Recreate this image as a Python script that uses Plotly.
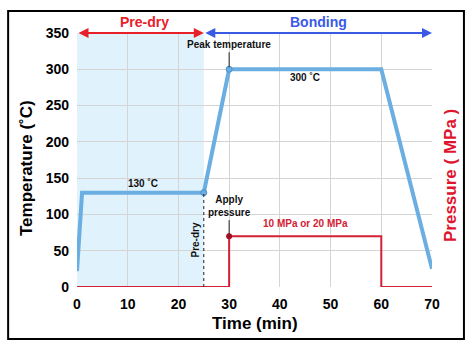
import plotly.graph_objects as go

# Data
time_temp = [0, 1, 25, 30, 60, 70]
temperature = [22, 130, 130, 300, 300, 25]
time_press = [0, 30, 30, 60, 60, 70]
pressure = [0, 0, 70, 70, 0, 0]   # plotted on the shared scale
x_ticks = [0, 10, 20, 30, 40, 50, 60, 70]
y_ticks = [0, 50, 100, 150, 200, 250, 300, 350]
predry_end = 25
bond_end = 70

FONT = "Liberation Sans, Arial, sans-serif"
BLUE = "#6aaee2"
RED = "#d42035"

fig = go.Figure()

fig.add_trace(go.Scatter(x=time_press, y=pressure, mode="lines",
                         line=dict(color=RED, width=2), hoverinfo="skip"))
fig.add_trace(go.Scatter(x=time_temp, y=temperature, mode="lines",
                         line=dict(color=BLUE, width=4), hoverinfo="skip"))
fig.add_trace(go.Scatter(x=[predry_end, 30], y=[130, 300], mode="markers",
                         marker=dict(color=BLUE, size=6, line=dict(color="#4a8ec8", width=1))))
fig.add_trace(go.Scatter(x=[30], y=[70], mode="markers",
                         marker=dict(color="#a01020", size=6)))

shapes = [
    dict(type="rect", xref="x", yref="y", x0=0, x1=predry_end, y0=0, y1=350,
         fillcolor="#e0f2fb", line=dict(width=0), layer="below"),
    dict(type="line", xref="x", yref="y", x0=predry_end, x1=predry_end, y0=0, y1=130,
         line=dict(color="#222222", width=1, dash="dot")),
    dict(type="rect", xref="paper", yref="paper", x0=-0.194, x1=1.090, y0=-0.205, y1=1.087,
         line=dict(color="black", width=2)),
]

ann = []
# double arrows
ann.append(dict(x=predry_end, y=350, ax=0, ay=350, xref="x", yref="y", axref="x", ayref="y",
                text="", showarrow=True, arrowhead=2, startarrowhead=2, arrowside="end+start",
                arrowsize=1, arrowwidth=2, arrowcolor="#e8202a"))
ann.append(dict(x=bond_end, y=350, ax=predry_end, ay=350, xref="x", yref="y", axref="x", ayref="y",
                text="", showarrow=True, arrowhead=2, startarrowhead=2, arrowside="end+start",
                arrowsize=1, arrowwidth=2, arrowcolor="#3a5ae6"))
ann.append(dict(x=(144 - 77) / 355, y=(287 - 22) / 254, xref="paper", yref="paper",
                text="<b>Pre-dry</b>", showarrow=False, xanchor="center", yanchor="middle",
                font=dict(family=FONT, size=14, color="#e8202a")))
ann.append(dict(x=(318 - 77) / 355, y=(287 - 22) / 254, xref="paper", yref="paper",
                text="<b>Bonding</b>", showarrow=False, xanchor="center", yanchor="middle",
                font=dict(family=FONT, size=14, color="#3a5ae6")))
# peak temperature
ann.append(dict(x=30, y=300, xref="x", yref="y", ax=0, ay=-17, text="<b>Peak temperature</b>",
                showarrow=True, arrowhead=0, arrowwidth=1, arrowcolor="#222", standoff=2,
                font=dict(family=FONT, size=10, color="#111"), yanchor="bottom"))
ann.append(dict(x=30, y=70, xref="x", yref="y", ax=0, ay=-16, text="<b>Apply<br>pressure</b>",
                showarrow=True, arrowhead=0, arrowwidth=1, arrowcolor="#222", standoff=2,
                font=dict(family=FONT, size=10, color="#111"), yanchor="bottom"))
ann.append(dict(x=45, y=288, xref="x", yref="y", text="<b>300 ˚C</b>", showarrow=False,
                font=dict(family=FONT, size=10, color="#111")))
ann.append(dict(x=13, y=143, xref="x", yref="y", text="<b>130 ˚C</b>", showarrow=False,
                font=dict(family=FONT, size=10, color="#111")))
ann.append(dict(x=45, y=88, xref="x", yref="y", text="<b>10 MPa or 20 MPa</b>", showarrow=False,
                font=dict(family=FONT, size=10, color=RED)))
ann.append(dict(x=23.4, y=65, xref="x", yref="y", text="<b>Pre-dry</b>", showarrow=False,
                textangle=-90, font=dict(family=FONT, size=10, color="#111")))
# axis titles
ann.append(dict(x=(26 - 77) / 355, y=(287 - 168) / 254, xref="paper", yref="paper",
                text="<b>Temperature (˚C)</b>", xanchor="center", yanchor="middle",
                showarrow=False, textangle=-90, font=dict(family=FONT, size=17, color="black")))
ann.append(dict(x=(450 - 77) / 355, y=(287 - 176) / 254, xref="paper", yref="paper",
                text="<b>Pressure ( MPa )</b>", xanchor="center", yanchor="middle",
                showarrow=False, textangle=-90, font=dict(family=FONT, size=17, color="#e0142c")))
ann.append(dict(x=(255 - 77) / 355, y=(287 - 323) / 254, xref="paper", yref="paper",
                text="<b>Time (min)</b>", xanchor="center", yanchor="middle",
                showarrow=False, font=dict(family=FONT, size=17, color="black")))

fig.update_layout(
    width=474, height=353,
    margin=dict(l=77, r=42, t=33, b=66),
    paper_bgcolor="white", plot_bgcolor="white",
    showlegend=False,
    shapes=shapes, annotations=ann,
    xaxis=dict(range=[0, 70], tickvals=x_ticks, ticktext=[f"<b>{v}</b>" for v in x_ticks],
               showgrid=True, gridcolor="#d4d4d4", gridwidth=1, zeroline=False,
               showline=False, ticks="", ticklabelstandoff=7,
               tickfont=dict(family=FONT, size=14, color="black")),
    yaxis=dict(range=[0, 350], tickvals=y_ticks, ticktext=[f"<b>{v}</b>" for v in y_ticks],
               showgrid=True, gridcolor="#d4d4d4", gridwidth=1, zeroline=False,
               showline=False, ticks="", ticklabelstandoff=7,
               tickfont=dict(family=FONT, size=14, color="black")),
)

fig.write_html("out.html")
